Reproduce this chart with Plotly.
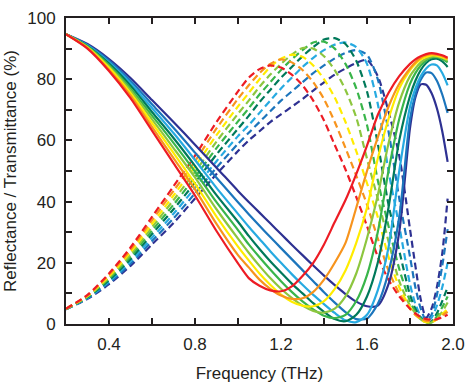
import plotly.graph_objects as go

# Frequency grid (THz)
freq = [0.2, 0.3, 0.4, 0.5, 0.6, 0.7, 0.8, 0.9, 1.0, 1.05, 1.1, 1.15, 1.2, 1.25, 1.3, 1.35,
        1.4, 1.45, 1.5, 1.55, 1.6, 1.65, 1.7, 1.75, 1.8, 1.825, 1.85, 1.875, 1.9, 1.925, 1.95, 1.975]

# Transmittance (solid lines), %
T_red = [94.7, 90.0, 82.7, 73.8, 63.2, 52.6, 42.0, 30.4, 19.8, 15.0, 12.5, 11.0, 10.7, 12.3, 15.7, 20.0,
         26.0, 33.3, 40.5, 49.0, 58.3, 68.3, 75.5, 81.0, 85.0, 86.5, 87.5, 88.2, 88.5, 88.3, 87.8, 87.0]
T_orange = [94.7, 90.2, 83.1, 74.7, 64.4, 54.2, 44.0, 32.7, 22.5, 18.5, 14.5, 11.5, 9.3, 8.2, 8.4, 10.5,
            14.5, 20.0, 26.5, 38.0, 50.0, 61.0, 71.0, 78.5, 83.5, 85.5, 87.0, 87.8, 88.2, 88.0, 87.5, 86.7]
T_yellow = [94.7, 90.3, 83.7, 75.4, 65.7, 55.9, 45.9, 35.1, 25.3, 20.8, 16.5, 12.8, 9.6, 7.3, 6.0, 5.8,
            7.5, 11.5, 17.5, 26.5, 38.0, 54.0, 67.0, 77.0, 83.0, 85.0, 86.5, 87.3, 87.8, 87.7, 87.2, 86.5]
T_lgreen = [94.7, 90.5, 84.1, 76.3, 66.9, 57.5, 47.9, 37.5, 27.9, 23.3, 19.0, 15.0, 11.5, 8.5, 6.0, 4.3,
            3.7, 5.0, 9.0, 16.5, 28.0, 42.0, 59.0, 72.5, 81.0, 83.5, 85.5, 86.7, 87.4, 87.4, 87.0, 86.0]
T_green = [94.7, 90.7, 84.6, 77.0, 68.1, 59.2, 49.8, 39.8, 30.7, 26.0, 21.8, 17.8, 14.0, 10.5, 7.4, 4.8,
           2.7, 1.9, 3.0, 7.5, 16.0, 30.0, 50.0, 67.0, 78.5, 82.0, 84.5, 86.2, 87.1, 87.2, 86.6, 85.5]
T_dgreen = [94.7, 90.8, 85.1, 77.9, 69.3, 60.8, 51.7, 42.1, 33.4, 28.8, 24.5, 20.5, 16.8, 13.2, 10.0, 6.8,
            4.0, 1.6, 0.9, 3.0, 9.0, 20.0, 38.0, 60.0, 74.5, 79.5, 83.0, 85.3, 86.5, 86.7, 85.8, 84.0]
T_sky = [94.7, 91.0, 85.5, 78.7, 70.6, 62.4, 53.6, 44.5, 36.0, 31.8, 27.8, 23.8, 20.0, 16.3, 12.8, 9.5,
         6.5, 3.6, 1.2, 0.6, 3.0, 11.0, 25.0, 50.0, 71.0, 77.0, 81.0, 83.5, 84.8, 84.5, 82.0, 78.0]
T_blue = [94.7, 91.2, 86.1, 79.5, 71.8, 64.1, 56.0, 47.8, 39.8, 35.9, 32.1, 28.4, 24.8, 21.2, 17.6, 14.0,
          10.4, 7.0, 3.9, 1.6, 1.8, 6.5, 17.0, 35.0, 67.0, 75.0, 79.8, 82.2, 82.0, 79.5, 75.0, 69.0]
T_navy = [94.7, 91.5, 86.6, 80.4, 73.2, 66.0, 58.6, 51.1, 43.5, 39.9, 36.4, 32.9, 29.4, 25.9, 22.5, 19.1,
          15.8, 12.7, 9.8, 7.3, 5.8, 6.0, 13.0, 30.0, 64.0, 74.0, 78.3, 78.2, 75.5, 70.5, 63.0, 53.0]

# Reflectance (dashed lines), %
R_red = [5.0, 9.5, 16.5, 25.0, 35.0, 45.0, 55.0, 66.0, 76.0, 80.5, 83.3, 84.5, 83.8, 81.5, 78.0, 73.0,
         66.5, 58.5, 50.5, 41.5, 32.0, 22.0, 14.5, 9.0, 5.0, 3.5, 2.3, 1.6, 1.4, 1.6, 2.2, 3.0]
R_orange = [5.0, 9.3, 16.1, 24.2, 33.9, 43.5, 53.2, 63.9, 73.6, 78.0, 82.0, 85.0, 86.5, 85.5, 83.0, 79.0,
            73.5, 66.0, 57.5, 48.5, 39.0, 28.0, 17.5, 10.0, 5.0, 3.0, 1.8, 1.0, 1.0, 1.5, 2.8, 4.0]
R_yellow = [5.0, 9.2, 15.6, 23.5, 32.7, 42.0, 51.5, 61.7, 71.1, 75.5, 80.0, 84.0, 86.7, 88.0, 87.3, 84.5,
            80.0, 74.0, 66.0, 56.5, 46.0, 35.0, 22.0, 12.0, 5.5, 3.0, 1.5, 0.6, 0.6, 1.5, 3.2, 5.0]
R_lgreen = [4.9, 9.0, 15.2, 22.7, 31.6, 40.5, 49.7, 59.6, 68.7, 73.0, 77.5, 81.5, 85.0, 88.0, 90.2, 90.0,
            87.5, 83.0, 76.5, 67.5, 54.0, 41.0, 27.0, 14.0, 6.0, 3.5, 1.5, 0.5, 0.5, 1.8, 4.0, 7.0]
R_green = [4.9, 8.85, 14.8, 22.0, 30.5, 39.0, 48.0, 57.5, 66.2, 70.5, 75.0, 79.0, 83.0, 86.5, 89.5, 92.0,
           92.3, 90.0, 85.0, 77.0, 65.0, 47.0, 32.0, 18.0, 7.5, 4.0, 1.8, 0.5, 0.5, 2.5, 5.5, 9.0]
R_dgreen = [4.9, 8.7, 14.3, 21.2, 29.4, 37.5, 46.2, 55.4, 63.8, 68.0, 72.5, 76.5, 80.5, 84.0, 87.5, 90.5,
            93.0, 93.4, 91.5, 86.0, 76.0, 59.0, 39.0, 24.0, 9.5, 5.0, 2.0, 0.5, 0.8, 3.5, 7.5, 12.0]
R_sky = [4.8, 8.5, 13.9, 20.5, 28.2, 36.0, 44.5, 53.2, 61.4, 65.0, 69.0, 73.0, 77.0, 80.5, 84.0, 87.0,
         89.5, 91.3, 92.0, 90.5, 85.0, 72.0, 50.0, 32.0, 13.0, 6.5, 2.5, 0.6, 2.0, 6.0, 12.0, 20.0]
R_blue = [4.8, 8.4, 13.4, 19.7, 27.1, 34.5, 42.7, 51.1, 58.9, 62.5, 66.0, 69.5, 73.0, 76.0, 79.0, 82.0,
          84.5, 86.8, 88.6, 89.5, 88.0, 80.0, 63.0, 41.0, 22.0, 12.0, 5.0, 1.2, 3.0, 9.5, 19.0, 31.0]
R_navy = [4.8, 8.2, 13.0, 19.0, 26.0, 33.0, 41.0, 49.0, 56.5, 60.0, 63.0, 66.0, 68.5, 71.0, 73.5, 76.3,
          79.0, 81.5, 83.5, 85.3, 86.3, 81.0, 69.5, 55.0, 31.0, 19.0, 8.0, 2.0, 5.0, 12.0, 23.0, 41.0]

colors = ["#2E3192", "#1C75BC", "#27AAE1", "#00795A", "#39B54A", "#8DC63F", "#FFEC00", "#F7941D", "#ED1C24"]
T_series = [T_navy, T_blue, T_sky, T_dgreen, T_green, T_lgreen, T_yellow, T_orange, T_red]
R_series = [R_navy, R_blue, R_sky, R_dgreen, R_green, R_lgreen, R_yellow, R_orange, R_red]

x_tickvals = [0.2, 0.4, 0.6, 0.8, 1.0, 1.2, 1.4, 1.6, 1.8, 2.0]
x_ticktext = ["", "0.4", "", "0.8", "", "1.2", "", "1.6", "", "2.0"]
y_tickvals = [0, 10, 20, 30, 40, 50, 60, 70, 80, 90, 100]
y_ticktext = ["0", "", "20", "", "40", "", "60", "", "80", "", "100"]

fig = go.Figure()
for c, ys in zip(colors, R_series):
    fig.add_trace(go.Scatter(x=freq, y=ys, mode="lines",
                             line=dict(color=c, width=2.2, dash="7px,4px", shape="spline", smoothing=0.7),
                             showlegend=False, hoverinfo="skip"))
for c, ys in zip(colors, T_series):
    fig.add_trace(go.Scatter(x=freq, y=ys, mode="lines",
                             line=dict(color=c, width=2.2, shape="spline", smoothing=0.7),
                             showlegend=False, hoverinfo="skip"))

font_family = "Liberation Sans, Arial, Helvetica, sans-serif"
axis_common = dict(showline=True, linewidth=2, linecolor="#231F20", mirror="ticks",
                   ticks="inside", ticklen=6, tickwidth=1.5, tickcolor="#231F20",
                   showgrid=False, zeroline=False,
                   tickfont=dict(family=font_family, size=17, color="#231F20"))

fig.update_layout(
    width=474, height=389,
    margin=dict(l=62, r=12, t=9, b=55),
    paper_bgcolor="white", plot_bgcolor="white",
    font=dict(family=font_family, color="#231F20"),
    xaxis=dict(range=[0.2, 2.0], tickvals=x_tickvals, ticktext=x_ticktext,
               title=dict(text="Frequency (THz)", font=dict(size=17, family=font_family), standoff=14),
               ticklabelstandoff=4, **axis_common),
    yaxis=dict(range=[0, 100], tickvals=y_tickvals, ticktext=y_ticktext,
               title=dict(text="Reflectance / Transmittance (%)", font=dict(size=17, family=font_family), standoff=6),
               ticklabelstandoff=5, **axis_common),
)

fig.write_html("out.html", config={"displayModeBar": False},
               post_script="document.body.style.margin='0';")
